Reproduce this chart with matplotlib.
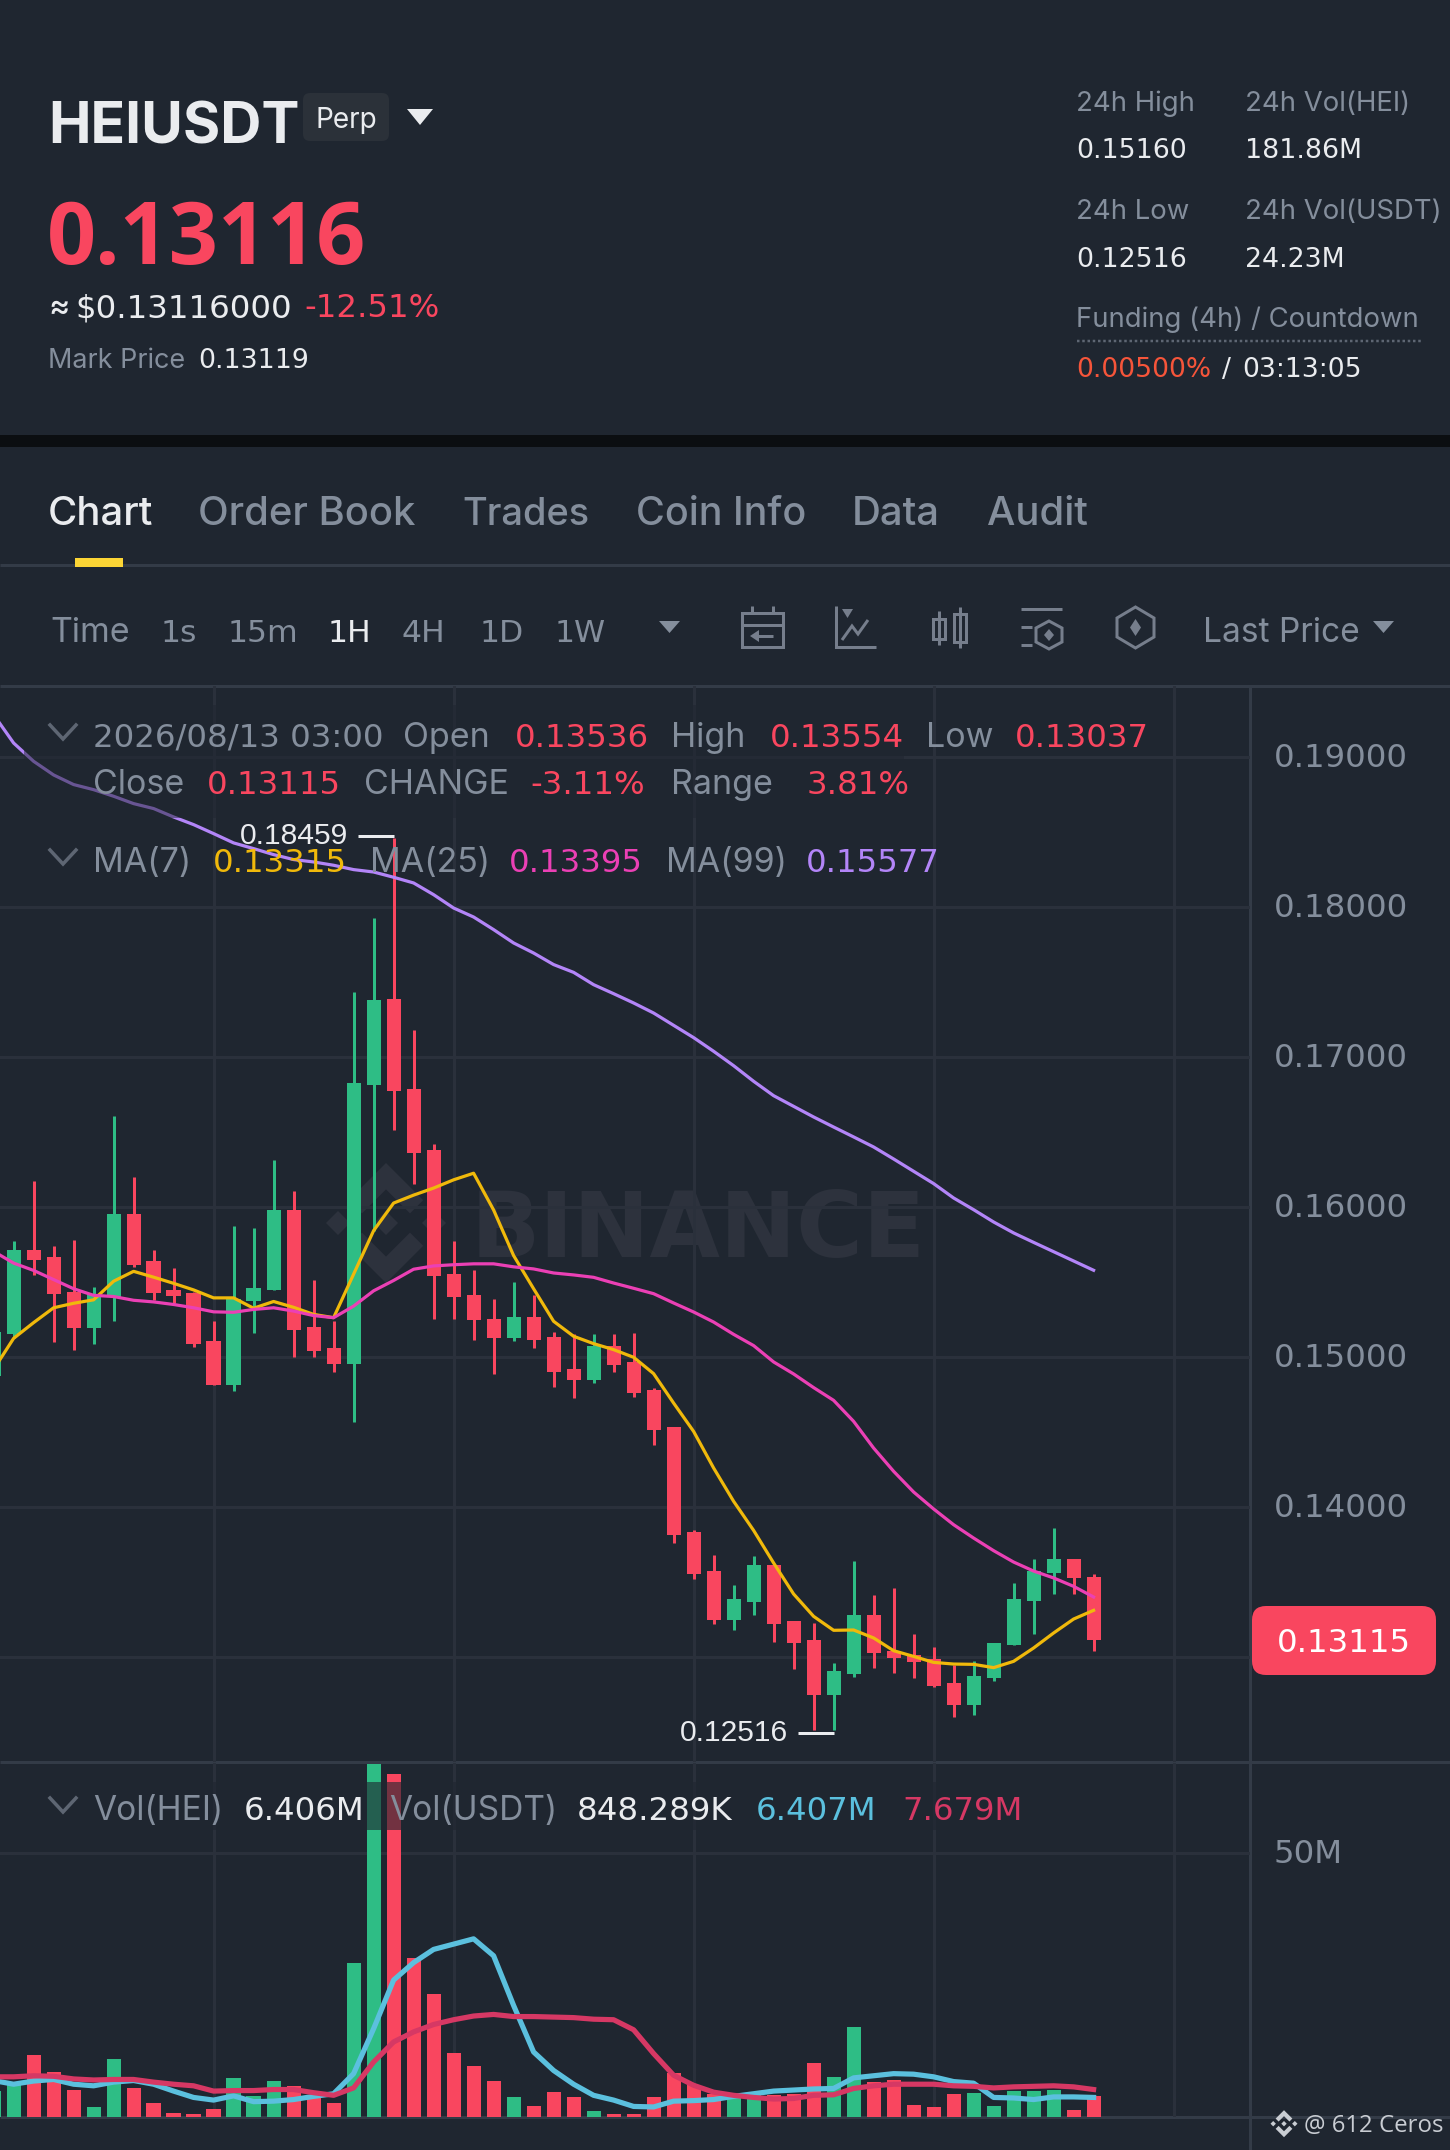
import numpy as np
import matplotlib
matplotlib.use("Agg")
import matplotlib.pyplot as plt
from matplotlib.patches import Rectangle, Polygon, FancyBboxPatch
from matplotlib.transforms import offset_copy, ScaledTranslation

# ---------- data ----------
candle_index = list(range(-1, 55))
opens = [.14875,.15151,.15712,.15668,.15436,.15190,.15400,.15952,.15637,.15444,.15427,.15105,.14815,.15370,.15447,.15980,.15201,.15058,
         .14955,.16813,.17387,.16788,.16380,.15554,.15414,.15256,.15129,.15267,.15133,.14920,.14849,.15076,.14964,.14782,.14536,.13836,
         .13576,.13244,.13364,.13616,.13238,.13113,.12749,.12889,.13278,.13042,.13011,.12984,.12827,.12678,.12858,.13078,.13376,.13562,.13653,.13536]
highs = [.15200,.15773,.16173,.15737,.15781,.15466,.16609,.16200,.15715,.15593,.15433,.15243,.15875,.15858,.16311,.16109,.15510,.15240,
         .17431,.17925,.18459,.17177,.16421,.15775,.15577,.15386,.15499,.15416,.15167,.15156,.15153,.15156,.15160,.14793,.14536,.13849,
         .13682,.13482,.13671,.13616,.13238,.13227,.12960,.13638,.13416,.13458,.13153,.13069,.12944,.12973,.13093,.13493,.13653,.13860,.13653,.13554]
lows = [.14800,.15124,.15546,.15102,.15049,.15088,.15243,.15599,.15383,.15358,.15069,.14815,.14776,.15163,.15447,.15000,.15000,.14903,
        .14564,.15842,.16515,.16151,.15256,.15254,.15110,.14887,.15107,.15058,.14800,.14724,.14824,.14898,.14731,.14413,.13760,.13522,
        .13218,.13180,.13278,.13102,.12922,.12516,.12516,.12864,.12927,.12891,.12862,.12798,.12598,.12611,.12838,.13078,.13156,.13422,.13420,.13037]
closes = [.15165,.15712,.15648,.15419,.15190,.15414,.15952,.15615,.15427,.15405,.15088,.14815,.15386,.15461,.15980,.15179,.15041,.14955,
          .16827,.17382,.16772,.16363,.15538,.15400,.15245,.15129,.15267,.15116,.14900,.14849,.15076,.14944,.14760,.14516,.13816,.13556,
          .13244,.13387,.13616,.13218,.13093,.12747,.12904,.13278,.13024,.12996,.12964,.12804,.12678,.12876,.13091,.13389,.13576,.13653,.13527,.13115]
ma7 = [.14917,.15124,.15229,.15328,.15358,.15381,.15505,.15571,.15532,.15491,.15447,.15394,.15394,.15325,.15370,.15331,.15284,.15262,
       .15552,.15842,.16026,.16079,.16126,.16181,.16225,.15980,.15676,.15455,.15238,.15138,.15089,.15049,.14998,.14889,.14693,.14504,
       .14260,.14038,.13844,.13627,.13420,.13271,.13178,.13180,.13127,.13042,.13004,.12964,.12953,.12951,.12929,.12971,.13060,.13160,.13253,.13311]
ma25 = [.15704,.15626,.15577,.15516,.15455,.15411,.15403,.15378,.15367,.15350,.15328,.15301,.15298,.15317,.15328,.15306,.15276,.15262,
        .15339,.15441,.15510,.15585,.15607,.15615,.15621,.15621,.15601,.15587,.15560,.15547,.15531,.15493,.15458,.15422,.15360,.15300,
        .15233,.15151,.15076,.14967,.14887,.14796,.14711,.14571,.14393,.14238,.14100,.13987,.13882,.13793,.13709,.13633,.13573,.13527,.13471,.13400]
ma99 = [.19282,.19093,.18971,.18880,.18816,.18782,.18738,.18689,.18656,.18600,.18549,.18489,.18427,.18389,.18349,.18316,.18300,.18278,
        .18249,.18233,.18198,.18160,.18082,.17993,.17933,.17849,.17760,.17693,.17616,.17564,.17482,.17422,.17360,.17293,.17211,.17129,
        .17038,.16942,.16838,.16742,.16671,.16600,.16533,.16467,.16400,.16320,.16238,.16156,.16060,.15982,.15900,.15827,.15764,.15702,.15640,.15578]
volumes = [5.0,6.0,11.8,8.6,5.2,1.9,10.9,5.5,2.7,0.7,0.6,1.6,7.4,4.0,6.9,5.8,4.0,2.7,29.2,66.8,64.8,30.1,23.2,12.1,9.7,6.8,3.7,2.1,4.8,3.8,1.2,
           0.6,0.6,3.7,8.4,6.0,4.4,4.4,4.4,4.1,4.4,10.3,7.5,17.0,6.7,7.0,2.3,1.9,4.4,4.6,2.1,5.0,5.0,5.2,1.3,4.0]
vol_ma_fast = [6.9,6.2,6.8,7.1,6.2,5.9,6.6,6.9,6.2,4.9,3.7,3.2,4.0,2.9,3.0,3.3,3.9,4.4,8.2,16.7,25.9,29.2,31.7,32.7,33.7,30.5,21.1,12.3,8.8,6.2,4.1,
               3.2,2.0,1.9,3.0,3.1,3.3,3.9,4.4,4.9,5.1,5.3,5.4,7.4,7.8,8.2,8.1,7.6,6.7,6.4,3.7,3.6,3.3,3.8,3.8,3.7]
vol_ma_slow = [7.6,7.6,7.8,7.7,7.2,7.0,7.1,7.1,6.6,6.2,5.9,4.9,5.0,5.0,5.2,5.2,4.6,4.1,5.5,10.4,14.2,16.1,17.5,18.4,19.1,19.4,19.0,19.0,18.9,18.8,18.5,
               18.4,16.5,12.0,7.9,6.0,4.7,4.1,3.7,3.4,3.5,4.1,4.2,5.4,5.9,6.2,6.2,6.2,5.9,5.8,5.5,5.7,5.8,5.9,5.7,5.2]
price_ticks = [.13,.14,.15,.16,.17,.18,.19]
price_tick_labels = ["0.13000","0.14000","0.15000","0.16000","0.17000","0.18000","0.19000"]
vol_ticks = [50]
vol_tick_labels = ["50M"]
time_grid = [10,22,34,46,58]

# ---------- style ----------
W, H = 1450, 2150
BG = "#1F2630"; GRID = "#2A303B"; SEP = "#333B47"
GREEN = "#2EBD85"; RED = "#F9465F"; GRAY = "#848E9C"; WHITE = "#EAECEF"
FONT = "Inter"; NUM = "DejaVu Sans"
plt.rcParams["font.family"] = [FONT, "DejaVu Sans"]
def pt(px): return px * 0.72

fig = plt.figure(figsize=(W/100, H/100), dpi=100, facecolor=BG)
def frame(x0, y0, x1, y1):
    return [x0/W, 1 - y1/H, (x1-x0)/W, (y1-y0)/H]

back = fig.add_axes([0,0,1,1], zorder=0); back.set_xlim(0,W); back.set_ylim(H,0); back.axis("off")
over = fig.add_axes([0,0,1,1], zorder=5); over.set_xlim(0,W); over.set_ylim(H,0); over.axis("off"); over.patch.set_alpha(0)

ax = fig.add_axes(frame(0,686,1250,1762), zorder=2); ax.patch.set_alpha(0)
av = fig.add_axes(frame(0,1763,1250,2117), zorder=2); av.patch.set_alpha(0)

def T(a, x, y, s, px, c, weight="normal", ha="left", family=None):
    kw = {"family": family} if family else {}
    a.text(x, y, s, fontsize=pt(px), color=c, fontweight=weight, ha=ha, va="baseline", **kw)

# ---------- chrome ----------
back.add_patch(Rectangle((0,435),W,12,color="#0B0E11",lw=0))
for y,lw in [(565,3),(686,3),(1762,3),(2117,3)]:
    back.plot([0,W],[y,y],color=SEP,lw=pt(lw),solid_capstyle="butt")
back.plot([1250,1250],[686,H],color=SEP,lw=pt(3),solid_capstyle="butt")
back.add_patch(Rectangle((75,558),48,9,color="#FCD535",lw=0,zorder=3))

def logo(a, cx, cy, s, c, z=1):
    for p in ([(0,-.2),(.2,0),(0,.2),(-.2,0)],
              [(-.8,-.2),(-.6,0),(-.8,.2),(-1,0)],
              [(.8,-.2),(1,0),(.8,.2),(.6,0)],
              [(0,-1),(.62,-.38),(.4,-.16),(0,-.56),(-.4,-.16),(-.62,-.38)],
              [(0,1),(.62,.38),(.4,.16),(0,.56),(-.4,.16),(-.62,.38)]):
        a.add_patch(Polygon([(cx+s*x,cy+s*y) for x,y in p],closed=True,color=c,lw=0,zorder=z))
logo(back,386,1223,60,"#2D323D")
T(back,471,1257,"BINANCE",91,"#2D323D","bold",family=NUM)

# header
T(back,48,143,"HEIUSDT",57,WHITE,"bold")
back.add_patch(FancyBboxPatch((309,99),74,36,boxstyle="round,pad=6,rounding_size=7",color="#2B3139",lw=0))
T(back,315.5,128,"Perp",28,WHITE)
back.add_patch(Polygon([(407,109),(433,109),(420,125)],closed=True,color=WHITE,lw=0))
T(back,47,264,"0.13116",86,RED,"bold",family="Open Sans")
T(back,48,317,"≈",32,WHITE,"medium")
T(back,75,317,"$0.13116000",32.4,WHITE,family=NUM)
T(back,304,317,"-12.51%",32.4,RED,family=NUM)
T(back,48,368,"Mark Price",27,GRAY)
T(back,198.5,368,"0.13119",26.8,WHITE,family=NUM)
T(back,1076,111,"24h High",27.5,GRAY)
T(back,1245,111,"24h Vol(HEI)",27.5,GRAY)
T(back,1076,158,"0.15160",26.8,WHITE,family=NUM)
T(back,1245,158,"181.86M",26.8,WHITE,family=NUM)
T(back,1076,219,"24h Low",27.5,GRAY)
T(back,1245,219,"24h Vol(USDT)",27.5,GRAY)
T(back,1076,267,"0.12516",26.8,WHITE,family=NUM)
T(back,1245,267,"24.23M",26.8,WHITE,family=NUM)
T(back,1076,327,"Funding (4h) / Countdown",27.5,GRAY)
back.plot([1077,1422],[341,341],color="#5E6673",lw=pt(2.5),ls=(0,(1,1.1)))
T(back,1076,377,"0.00500%",26.5,"#F6553A",family=NUM)
T(back,1222,377,"/",26.5,WHITE,family=NUM)
T(back,1242,377,"03:13:05",26.5,WHITE,family=NUM)

# tabs
for x,s,c,sz in [(48,"Chart",WHITE,40),(198.5,"Order Book",GRAY,40),(462.5,"Trades",GRAY,38),(636,"Coin Info",GRAY,39.5),(851.5,"Data",GRAY,40),(987,"Audit",GRAY,40)]:
    T(back,x,525,s,sz,c,"medium")

# toolbar
T(back,50,642,"Time",34,GRAY)
T(back,1203,642,"Last Price",33.5,GRAY)
for x,s,c in [(161,"1s",GRAY),(228,"15m",GRAY),(328,"1H",WHITE),(402,"4H",GRAY),(480,"1D",GRAY),(555,"1W",GRAY)]:
    T(back,x,642,s,31.5,c,family=NUM)
for x0,x1 in [(659,680),(1373,1394)]:
    back.add_patch(Polygon([(x0,621),(x1,621),((x0+x1)/2,633)],closed=True,color=GRAY,lw=0))
IC = "#767E8C"; ILW = pt(3)
def L(xs, ys, lw=ILW): back.plot(xs, ys, color=IC, lw=lw, solid_capstyle="butt", solid_joinstyle="miter")
# calendar
back.add_patch(Rectangle((742,613),41,34,fill=False,ec=IC,lw=ILW))
L([742,783],[625,625]); L([752,752],[606,613]); L([773,773],[606,613])
L([757,773],[636,636]); back.add_patch(Polygon([(750,636),(759,630),(759,642)],closed=True,color=IC,lw=0))
# chart
L([836,836,876],[606,647,647]); L([842,852,858,868],[640,626,634,620])
back.add_patch(Polygon([(842,609),(853,609),(847.5,618)],closed=True,color=IC,lw=0))
# candles
back.add_patch(Rectangle((933,619),12,20,fill=False,ec=IC,lw=ILW)); L([939,939],[611,645])
back.add_patch(Rectangle((954,614),12,28,fill=False,ec=IC,lw=ILW)); L([960,960],[607,648])
# settings
L([1021,1062],[609,609]); L([1021,1032],[627,627]); L([1021,1032],[645,645])
back.add_patch(Polygon([(1049,621),(1062,628),(1062,642),(1049,649),(1036,642),(1036,628)],closed=True,fill=False,ec=IC,lw=ILW))
back.add_patch(Polygon([(1049,629),(1054,635),(1049,641),(1044,635)],closed=True,color=IC,lw=0))
# hexagon
back.add_patch(Polygon([(1135.5,607),(1154,618),(1154,637),(1135.5,648),(1117,637),(1117,618)],closed=True,fill=False,ec=IC,lw=ILW))
back.add_patch(Polygon([(1135.5,619),(1141,627.5),(1135.5,636),(1130,627.5)],closed=True,color=IC,lw=0))

# ---------- price pane ----------
x = np.array(candle_index)
o, h, l, c = map(np.array, (opens, highs, lows, closes))
cols = [GREEN if ci >= oi else RED for oi, ci in zip(o, c)]
ax.set_xlim(-0.68, 61.82); ax.set_ylim(.123, .19473)
ax.vlines(x, l, h, colors=cols, lw=pt(3), zorder=3)
ax.bar(x, np.abs(c-o), bottom=np.minimum(o,c), width=0.71, color=cols, lw=0, zorder=4)
ax.plot(x, ma7, color="#F0B90B", lw=pt(3.2), zorder=5)
ax.plot(x, ma25, color="#EB40B5", lw=pt(3.2), zorder=5)
ax.plot(x, ma99, color="#B385F8", lw=pt(3.2), zorder=5)
up2 = ScaledTranslation(1/100, 2/100, fig.dpi_scale_trans)
for a, ticks, labels in [(ax, price_ticks, price_tick_labels), (av, vol_ticks, vol_tick_labels)]:
    a.set_xticks(time_grid); a.set_yticks(ticks); a.set_yticklabels(labels, family=NUM)
    a.yaxis.tick_right()
    a.tick_params(axis="both", length=0, labelbottom=False)
    a.tick_params(axis="y", labelsize=pt(32.4), labelcolor=GRAY, pad=pt(23))
    for lb in a.get_yticklabels():
        lb.set_transform(lb.get_transform() + up2)
    a.grid(True, color=GRID, lw=pt(3)); a.set_axisbelow(True)
    for s in a.spines.values(): s.set_visible(False)
for k, p, s, dy in [(19, highs[20], "0.18459", 2), (41, lows[42], "0.12516", -3)]:
    tr = offset_copy(ax.transData, fig=fig, y=pt(dy), units="points")
    ax.plot([k-1.8, k], [p, p], color=WHITE, lw=pt(3), zorder=6, solid_capstyle="butt", transform=tr)
    ax.text(k-2.25, p, s, color=WHITE, fontsize=pt(30), family="Liberation Sans", ha="right", va="center", zorder=6, transform=tr)

# ---------- volume pane ----------
av.set_xlim(-0.68, 61.82); av.set_ylim(0, 66.96)
av.bar(x, volumes, width=0.71, color=cols, lw=0, zorder=3)
av.plot(x, vol_ma_fast, color="#5BC0DE", lw=pt(5.2), zorder=4)
av.plot(x, vol_ma_slow, color="#D63864", lw=pt(5.2), zorder=5)

# ---------- overlays ----------
over.add_patch(Rectangle((24,705),880,113,color=BG,alpha=.5,lw=0))
over.add_patch(Rectangle((24,1782),1016,48,color=BG,alpha=.62,lw=0))
def chev(cx,cy):
    over.plot([cx-13,cx,cx+13],[cy-7,cy+7,cy-7],color="#5E6673",lw=pt(3.5),solid_joinstyle="miter")
for cy in (732,857,1805): chev(63,cy)
LAB = 34.5
row1 = [(403,"Open",GRAY,0),(515,"0.13536",RED,1),(671,"High",GRAY,0),(770,"0.13554",RED,1),(926,"Low",GRAY,0),(1015,"0.13037",RED,1),(93,"2026/08/13 03:00",GRAY,1)]
row2 = [(93,"Close",GRAY,0),(207,"0.13115",RED,1),(364,"CHANGE",GRAY,0),(530,"-3.11%",RED,1),(671,"Range",GRAY,0),(807,"3.81%",RED,1)]
row3 = [(93,"MA(7)",GRAY,0),(212.5,"0.13315","#F0B90B",1),(370,"MA(25)",GRAY,0),(509,"0.13395","#EB40B5",1),(666,"MA(99)",GRAY,0),(806,"0.15577","#B385F8",1)]
row4 = [(93,"Vol(HEI)",GRAY,0),(244,"6.406M",WHITE,1),(389,"Vol(USDT)",GRAY,0),(577,"848.289K",WHITE,1),(756,"6.407M","#5BC0DE",1),(902,"7.679M","#D63864",1)]
for y, row, lab in [(747,row1,34),(794,row2,34),(872,row3,34),(1820,row4,33.5)]:
    for xx, s, col, isnum in row:
        if isnum: T(over,xx,y,s,32.4,col,family=NUM)
        else: T(over,xx,y,s,lab,col)
over.add_patch(FancyBboxPatch((1262,1616),164,49,boxstyle="round,pad=10,rounding_size=14",color=RED,lw=0))
over.text(1344,1652,"0.13115",fontsize=pt(32.4),color="white",ha="center",va="baseline",family=NUM)
logo(over,1284,2123.7,13.5,"#C9CDD3",z=6)
T(over,1304,2132,"@ 612 Ceros",24,"#C9CDD3",family="Open Sans")

fig.savefig("out.png", dpi=100, facecolor=BG)
